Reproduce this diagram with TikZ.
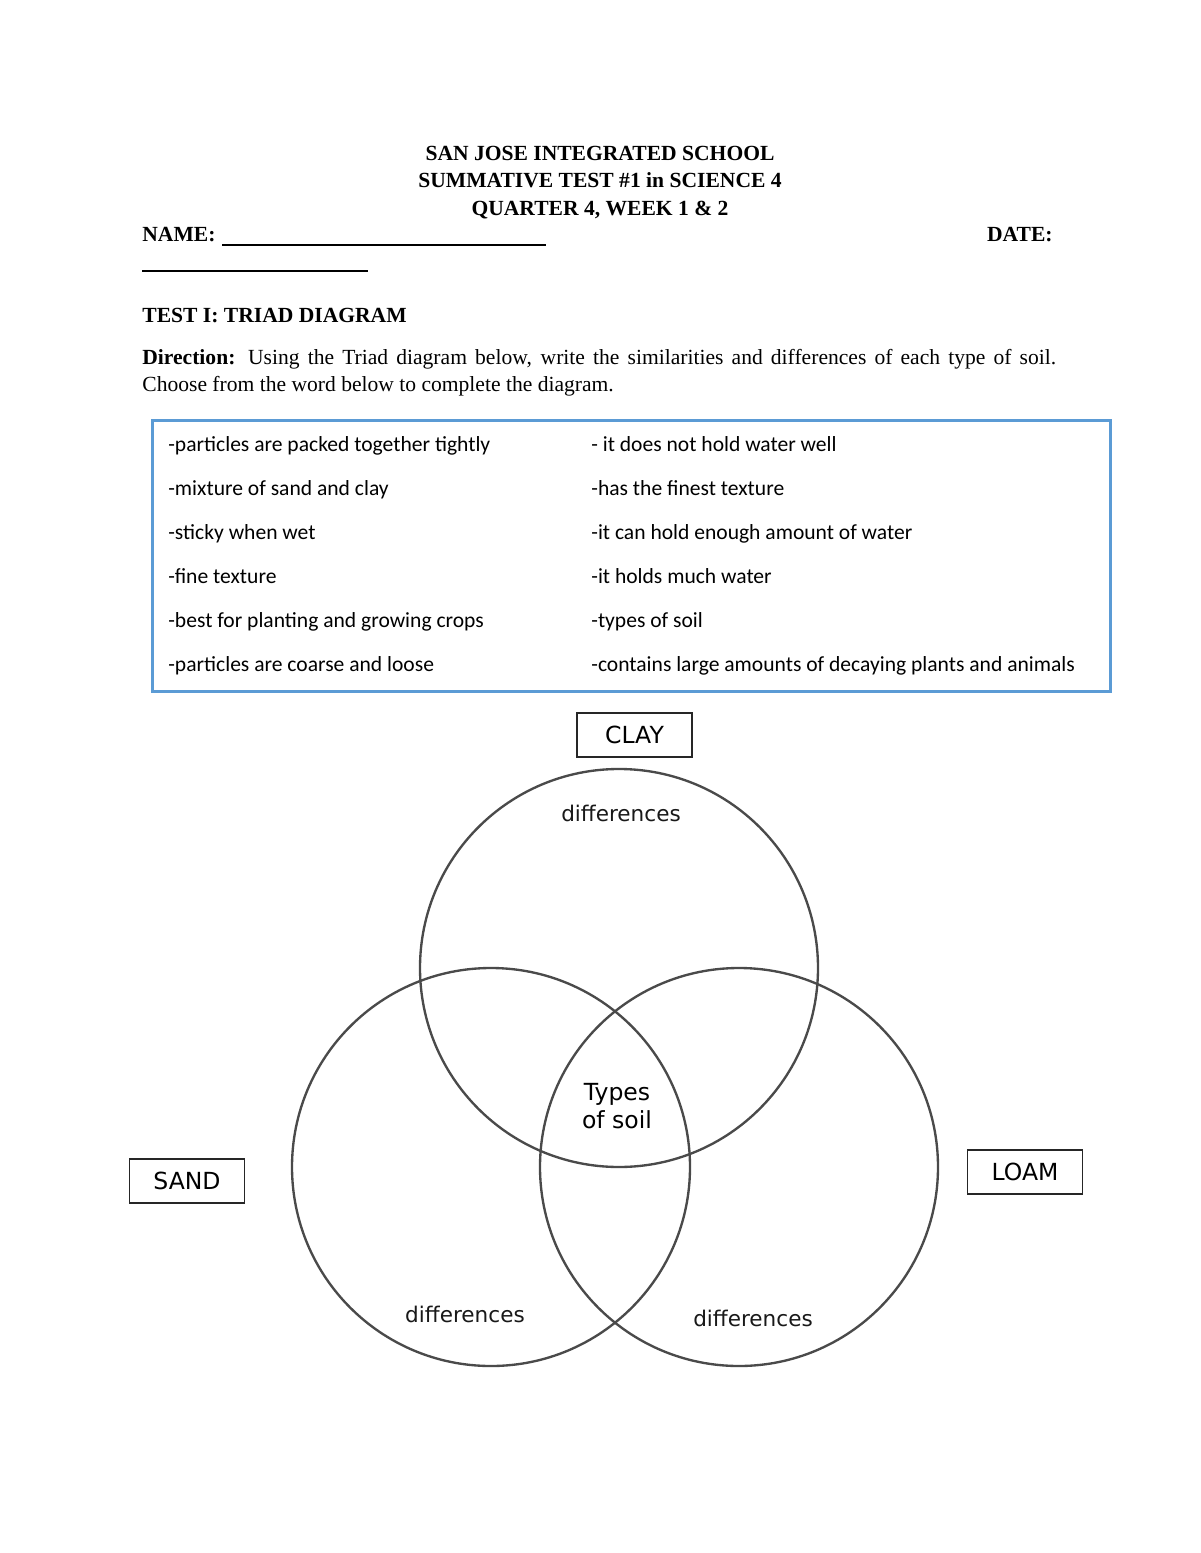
\documentclass[tikz,border=0pt]{standalone}
\usepackage{fontspec}
\setmainfont{Liberation Serif}
\newfontfamily\boxfont{Carlito}
\newfontfamily\labfont{DejaVu Sans}
\definecolor{boxblue}{HTML}{5B9BD5}
\definecolor{ringgray}{HTML}{4A4A4A}
\begin{document}
\begin{tikzpicture}[x=0.51pt,y=-0.51pt,
  head/.style={font=\fontsize{11}{13}\selectfont\bfseries, inner sep=0pt},
  item/.style={font=\boxfont\fontsize{11}{13}\selectfont, anchor=base west, inner sep=0pt},
  ring/.style={draw=ringgray, line width=1.2pt},
  soilbox/.style={draw=black!85, line width=0.7pt, minimum width=115*0.51pt, minimum height=44*0.51pt, inner sep=0pt, font=\labfont\fontsize{12}{14}\selectfont},
  difflabel/.style={font=\labfont\fontsize{11}{13}\selectfont, inner sep=0pt, text=black!90}]
\useasboundingbox (0,0) rectangle (1200,1553);
\fill[white] (0,0) rectangle (1200,1553);
% header
\node[head, anchor=base] (h1) at (600,161) {SAN JOSE INTEGRATED SCHOOL};
\node[head, anchor=base] (h2) at (600,188) {SUMMATIVE TEST \#1 in SCIENCE 4};
\node[head, anchor=base] (h3) at (600,215) {QUARTER 4, WEEK 1 \& 2};
\node[head, anchor=base west] (name) at (142,242) {NAME:};
\node[head, anchor=base east] (date) at (1053,242) {DATE:};
\coordinate (nl1) at (222,245); \coordinate (nl2) at (546,245);
\draw[line width=0.6pt] (nl1) -- (nl2);
\coordinate (dl1) at (142,271); \coordinate (dl2) at (368,271);
\draw[line width=0.6pt] (dl1) -- (dl2);
\node[head, anchor=base west] (test) at (142,322) {TEST I: TRIAD DIAGRAM};
\node[anchor=north west, inner sep=0pt, text width=466pt, align=justify, font=\fontsize{11}{13.8}\selectfont] (dir) at (142,349)
 {\textbf{Direction:} Using the Triad diagram below, write the similarities and differences of each type of soil. Choose from the word below to complete the diagram.};
% word box
\node[draw=boxblue, line width=1.4pt, minimum width=958*0.51pt, minimum height=271*0.51pt, anchor=north west, inner sep=0pt] (wbox) at (151,419) {};
\node[item] (a1) at (168,451) {-particles are packed together tightly};
\node[item] (a2) at (168,495) {-mixture of sand and clay};
\node[item] (a3) at (168,539) {-sticky when wet};
\node[item] (a4) at (168,583) {-fine texture};
\node[item] (a5) at (168,627) {-best for planting and growing crops};
\node[item] (a6) at (168,671) {-particles are coarse and loose};
\node[item] (b1) at (591,451) {- it does not hold water well};
\node[item] (b2) at (591,495) {-has the finest texture};
\node[item] (b3) at (591,539) {-it can hold enough amount of water};
\node[item] (b4) at (591,583) {-it holds much water};
\node[item] (b5) at (591,627) {-types of soil};
\node[item] (b6) at (591,671) {-contains large amounts of decaying plants and animals};
% circles
\draw[ring] (619,968) circle[radius=199];
\draw[ring] (491,1167) circle[radius=199];
\draw[ring] (739,1167) circle[radius=199];
% labels
\node[soilbox] (clay) at (634.5,735) {CLAY};
\node[soilbox] (sand) at (187,1181) {SAND};
\node[soilbox] (loam) at (1025,1172) {LOAM};
\node[difflabel] (d1) at (621,813) {differences};
\node[difflabel] (d2) at (465,1314) {differences};
\node[difflabel] (d3) at (753,1318) {differences};
\node[font=\labfont\fontsize{12}{14}\selectfont, align=center, inner sep=0pt] (types) at (617,1106) {Types\\of soil};
\end{tikzpicture}
\end{document}
